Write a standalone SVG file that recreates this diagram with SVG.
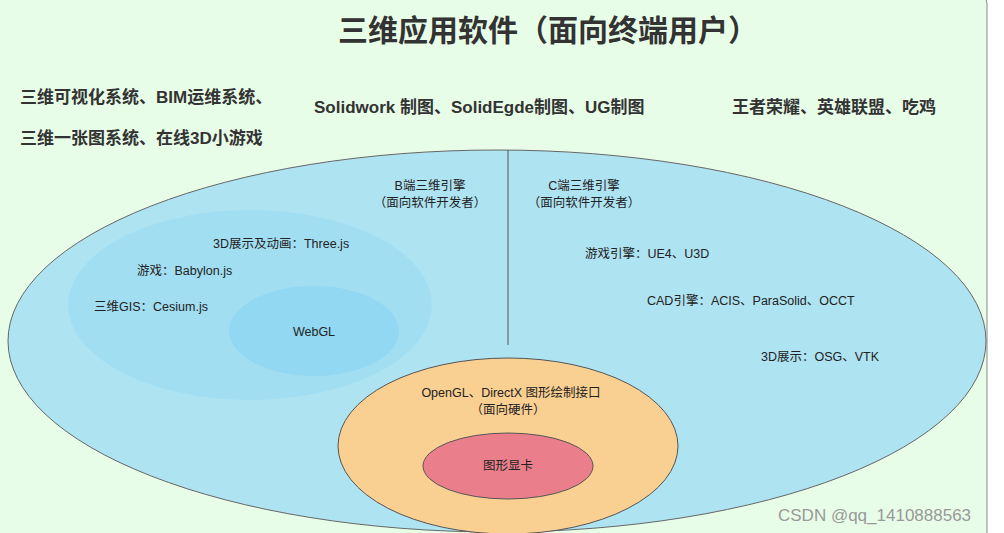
<svg xmlns="http://www.w3.org/2000/svg" width="1004" height="533" viewBox="0 0 1004 533">
<style>
text{font-family:"Liberation Sans","Noto Sans CJK SC",sans-serif;fill:#222}
.b{font-weight:bold;font-size:17px;fill:#333}
.s{font-size:12.5px}
</style>
<rect x="-10" y="-10" width="997" height="560" rx="14" fill="#e8fde8" stroke="#888"/>
<g id="outer"><ellipse cx="497" cy="341" rx="489" ry="191" fill="#aee3f2" stroke="#666"/></g>
<g id="connectors"><line x1="508" y1="150" x2="508" y2="345" stroke="#555"/></g>
<g id="web"><ellipse cx="250" cy="305" rx="182" ry="95" fill="#a2def2"/></g>
<g id="webgl"><ellipse cx="314" cy="331" rx="85" ry="45" fill="#93d8f2"/><text class="s" x="314" y="336" text-anchor="middle">WebGL</text></g>
<g id="opengl"><ellipse cx="508" cy="446" rx="170" ry="88" fill="#f9cf92" stroke="#555"/>
<text class="s" x="511" y="397" text-anchor="middle">OpenGL、DirectX 图形绘制接口</text>
<text class="s" x="508" y="414" text-anchor="middle">（面向硬件）</text></g>
<g id="gpu"><ellipse cx="508" cy="466" rx="85" ry="33" fill="#ea7f8b" stroke="#555"/><text class="s" x="508" y="470" text-anchor="middle">图形显卡</text></g>
<text x="548" y="41" text-anchor="middle" style="font-weight:bold;font-size:30px;fill:#333">三维应用软件（面向终端用户）</text>
<text class="b" x="20" y="103">三维可视化系统、BIM运维系统、</text>
<text class="b" x="20" y="144">三维一张图系统、在线3D小游戏</text>
<text class="b" x="314" y="113">Solidwork 制图、SolidEgde制图、UG制图</text>
<text class="b" x="732" y="113">王者荣耀、英雄联盟、吃鸡</text>
<text class="s" x="430" y="190" text-anchor="middle">B端三维引擎</text>
<text class="s" x="430" y="207" text-anchor="middle">（面向软件开发者）</text>
<text class="s" x="584" y="190" text-anchor="middle">C端三维引擎</text>
<text class="s" x="584" y="207" text-anchor="middle">（面向软件开发者）</text>
<text class="s" x="213" y="248">3D展示及动画：Three.js</text>
<text class="s" x="137" y="275">游戏：Babylon.js</text>
<text class="s" x="94" y="311">三维GIS：Cesium.js</text>
<text class="s" x="585" y="258">游戏引擎：UE4、U3D</text>
<text class="s" x="647" y="305">CAD引擎：ACIS、ParaSolid、OCCT</text>
<text class="s" x="761" y="361">3D展示：OSG、VTK</text>
<text x="778" y="521" style="font-size:17px;fill:#999">CSDN @qq_1410888563</text>
</svg>
